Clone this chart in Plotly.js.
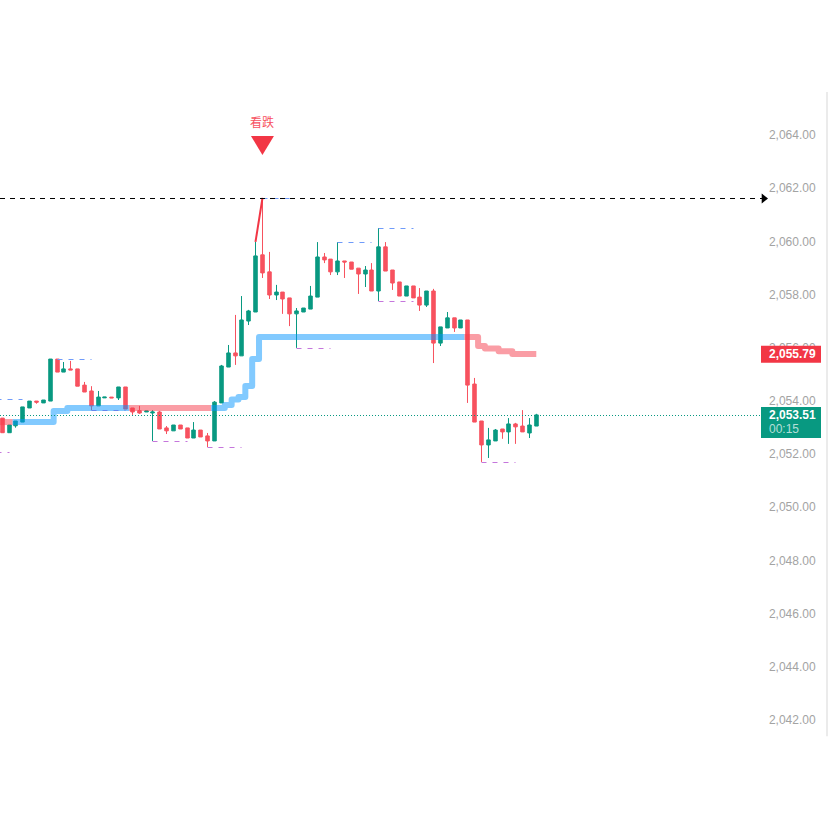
<!DOCTYPE html>
<html>
<head>
<meta charset="utf-8">
<script src="https://cdn.plot.ly/plotly-3.0.1.min.js"></script>
<style>html,body{margin:0;padding:0;background:#fff}#c{width:828px;height:828px}#c .js-line{stroke-linejoin:round}</style>
</head>
<body>
<div id="c"></div>
<script>
const opens = [2053.39,2052.84,2053.10,2053.24,2053.77,2054.03,2053.96,2054.03,2055.61,2055.12,
2055.24,2055.24,2054.63,2054.41,2053.85,2054.15,2054.18,2054.15,2054.56,2053.77,
2053.67,2053.62,2053.58,2053.62,2053.02,2052.91,2053.13,2053.02,2052.64,2052.94,
2052.72,2052.53,2053.96,2055.31,2055.84,2055.73,2057.04,2057.38,2059.53,2058.89,
2058.02,2058.13,2057.91,2057.31,2057.38,2057.49,2057.94,2059.45,2059.37,2058.89,
2059.30,2059.26,2059.03,2058.81,2058.96,2058.17,2059.83,2058.96,2058.51,2057.98,
2058.36,2057.94,2057.64,2058.17,2056.21,2056.78,2057.16,2056.78,2057.08,2054.67,
2053.28,2052.38,2052.53,2052.98,2052.87,2053.17,2053.09,2052.83,2053.09];
const closes = [2052.84,2053.13,2053.28,2053.81,2054.03,2053.99,2054.07,2055.61,2055.12,2055.24,
2055.20,2054.59,2054.37,2053.85,2054.18,2054.18,2054.15,2054.56,2053.73,2053.62,
2053.58,2053.66,2053.62,2052.98,2052.91,2053.13,2052.98,2052.64,2052.94,2052.68,
2052.53,2053.99,2055.35,2055.84,2055.73,2057.08,2057.42,2059.49,2058.85,2058.02,
2058.13,2057.87,2057.31,2057.42,2057.53,2057.98,2059.45,2059.34,2058.89,2059.30,
2059.26,2058.99,2058.81,2058.96,2058.17,2059.83,2058.92,2058.47,2057.98,2058.36,
2057.91,2057.64,2058.17,2056.21,2056.82,2057.16,2056.78,2057.08,2054.63,2053.24,
2052.38,2052.57,2052.94,2052.87,2053.17,2053.06,2052.87,2053.13,2053.51];
const highs = [2053.39,2053.13,2053.28,2053.81,2054.03,2054.03,2054.07,2055.61,2055.61,2055.50,
2055.54,2055.24,2054.75,2054.59,2054.41,2054.18,2054.18,2054.56,2054.56,2053.77,
2053.85,2053.66,2053.69,2053.66,2053.09,2053.13,2053.13,2053.02,2053.24,2052.94,
2052.83,2054.03,2055.39,2056.14,2057.27,2057.98,2057.46,2060.02,2061.67,2059.64,
2058.40,2058.13,2057.91,2057.53,2057.53,2058.36,2060.01,2059.60,2059.37,2060.01,
2059.30,2059.26,2059.03,2059.11,2059.22,2060.54,2060.01,2058.96,2058.51,2058.36,
2058.36,2058.28,2058.17,2058.25,2056.82,2057.38,2057.16,2057.08,2057.08,2054.90,
2053.28,2053.02,2052.98,2052.98,2053.39,2053.21,2053.69,2053.39,2053.55];
const lows = [2052.84,2052.84,2053.03,2053.24,2053.77,2053.93,2053.96,2054.03,2055.12,2055.12,
2055.20,2054.59,2054.37,2053.69,2053.85,2054.15,2054.15,2054.07,2053.73,2053.51,
2053.55,2053.62,2052.53,2052.98,2052.79,2052.91,2052.98,2052.64,2052.64,2052.68,
2052.30,2052.53,2053.96,2055.31,2055.39,2055.73,2056.89,2057.38,2058.66,2057.87,
2057.83,2057.31,2056.85,2056.03,2057.38,2057.49,2057.94,2059.22,2058.77,2058.77,
2058.66,2058.99,2058.06,2058.32,2058.17,2057.79,2058.92,2058.21,2057.98,2057.98,
2057.91,2057.42,2057.57,2055.46,2056.10,2056.78,2056.63,2056.78,2053.96,2053.24,
2051.74,2051.89,2052.53,2052.61,2052.42,2052.42,2052.87,2052.64,2053.09];
const trendValues = [2053.24,2053.24,2053.24,2053.24,2053.24,2053.24,2053.24,2053.24,2053.66,2053.66,
2053.77,2053.77,2053.77,2053.77,2053.77,2053.77,2053.77,2053.77,2053.77,2053.77,
2053.77,2053.77,2053.77,2053.77,2053.77,2053.77,2053.77,2053.77,2053.77,2053.77,
2053.77,2053.77,2053.77,2053.88,2054.09,2054.18,2054.60,2055.61,2056.44,2056.44,
2056.44,2056.44,2056.44,2056.44,2056.44,2056.44,2056.44,2056.44,2056.44,2056.44,
2056.44,2056.44,2056.44,2056.44,2056.44,2056.44,2056.44,2056.44,2056.44,2056.44,
2056.44,2056.44,2056.44,2056.44,2056.44,2056.44,2056.44,2056.44,2056.44,2056.44,
2056.10,2056.01,2056.01,2055.90,2055.90,2055.80,2055.80,2055.80,2055.80];
const trendSegments = [["down",0,1],["up",2,18],["down",19,30],["up",31,67],["down",68,78]];
const pivotHighs = [[-4,3,2054.10],[8,13,2055.61],[38,42,2061.67],[49,54,2060.01],[55,60,2060.54]];
const pivotLows = [[-4,1,2052.10],[13,18,2053.69],[22,27,2052.53],[30,35,2052.30],[43,48,2056.03],[55,60,2057.79],[70,75,2051.74]];
const priceTicks = [2042,2044,2046,2048,2050,2052,2054,2056,2058,2060,2062,2064];
const lastPrice = 2053.51, trendPrice = 2055.79, peakPrice = 2061.67, peakIndex = 38, slantFrom = 37;
const countdown = "00:15", signalLabel = "看跌";

const UP = "#089981", DOWN = "#F7525F", SIGNAL = "#F23645";
const FONT = "'Liberation Sans', Arial, sans-serif";
const PW = 765, PT = 92, PH = 643, BAR = 6.846, X0 = 2.3;
const yRange = [2041.47, 2065.655];
const S = PH / (yRange[1] - yRange[0]);
const px = v => v / PW;
const snapY = p => yRange[1] - (Math.round(PT + (yRange[1] - p) * S) + 0.5 - PT) / S;
const snapI = i => (Math.floor(X0 + BAR * i) + 0.5 - X0) / BAR;
const idx = opens.map((_, i) => snapI(i));
const priceText = v => v.toLocaleString("en-US",{minimumFractionDigits:2, maximumFractionDigits:2});

function pivotTrace(list, color) {
  const x = [], y = [];
  list.forEach(p => { x.push(snapI(p[0]), snapI(p[1]), null); y.push(snapY(p[2]), snapY(p[2]), null); });
  return {type:"scatter", mode:"lines", x, y, hoverinfo:"skip", showlegend:false,
    line:{color, width:1, dash:"5px,6px"}};
}
const traces = [
  pivotTrace(pivotHighs, "#6F9BFA"),
  pivotTrace(pivotLows, "#C576DC"),
  {type:"candlestick", x:idx, open:opens, high:highs, low:lows, close:closes,
    hoverinfo:"skip", showlegend:false, whiskerwidth:0,
    increasing:{line:{color:UP,width:1}, fillcolor:UP},
    decreasing:{line:{color:DOWN,width:1}, fillcolor:DOWN}},
  {type:"scatter", mode:"lines", x:[snapI(slantFrom),snapI(peakIndex)], y:[highs[slantFrom],peakPrice],
    hoverinfo:"skip", showlegend:false, line:{color:SIGNAL,width:2}}
];
trendSegments.forEach(s => {
  const x = [], y = [];
  for (let i = s[1]; i <= s[2]; i++) { x.push(i - 0.5); y.push(trendValues[i]); }
  x.push(Math.min(s[2] + 0.5, opens.length - 1)); y.push(trendValues[s[2]]);
  traces.push({type:"scatter", mode:"lines", x, y, hoverinfo:"skip", showlegend:false,
    line:{shape:"hv", width:6, color: s[0]==="up" ? "rgba(5,150,255,0.5)" : "rgba(245,60,75,0.5)"}});
});

const layout = {
  width:828, height:828, paper_bgcolor:"#fff", plot_bgcolor:"#fff",
  margin:{l:0, r:63, t:92, b:93}, showlegend:false, boxgap:0.167,
  xaxis:{range:[-0.336,111.41], visible:false, rangeslider:{visible:false}, fixedrange:true},
  yaxis:{range:yRange, side:"right", showgrid:false, zeroline:false, showline:false,
    tickmode:"array", tickvals:priceTicks, ticktext:priceTicks.map(priceText),
    ticks:"outside", ticklen:0.5, tickwidth:0, tickcolor:"rgba(0,0,0,0)", ticklabelshift:-1,
    tickfont:{family:FONT,size:12,color:"#A3A3A3"}, fixedrange:true},
  shapes:[
    {type:"line", xref:"paper", yref:"y", x0:0, x1:px(762), y0:snapY(peakPrice), y1:snapY(peakPrice), line:{color:"#000",width:1,dash:"5px,5px"}},
    {type:"line", xref:"paper", yref:"y", x0:0, x1:px(761), y0:snapY(lastPrice), y1:snapY(lastPrice), line:{color:UP,width:1,dash:"1px,2px"}},
    {type:"path", xref:"paper", yref:"y", ysizemode:"pixel", yanchor:snapY(peakPrice), layer:"above",
      path:"M "+px(761.7)+" -5 L "+px(768)+" 0 L "+px(761.7)+" 5 Z", fillcolor:"#000", line:{width:0}},
    {type:"path", xref:"x", yref:"y", xsizemode:"pixel", ysizemode:"pixel", xanchor:peakIndex, yanchor:peakPrice, layer:"above",
      path:"M -11.5 62 L 11.5 62 L 0 43 Z", fillcolor:SIGNAL, line:{width:0}},
    {type:"rect", xref:"paper", yref:"y", layer:"above", x0:px(761), x1:px(821), y0:trendPrice-0.32, y1:trendPrice+0.32, fillcolor:SIGNAL, line:{width:0}},
    {type:"rect", xref:"paper", yref:"y", layer:"above", x0:px(761), x1:px(821), y0:lastPrice-0.865, y1:lastPrice+0.30, fillcolor:UP, line:{width:0}},
    {type:"rect", xref:"paper", yref:"paper", layer:"above", x0:px(826), x1:px(828), y0:-0.002, y1:1, fillcolor:"#EBEBEB", line:{width:0}}
  ],
  annotations:[
    {xref:"x", yref:"y", x:peakIndex, y:peakPrice, yshift:76, text:signalLabel, showarrow:false,
      font:{family:"'Noto Sans CJK SC', sans-serif",size:12,color:DOWN}},
    {xref:"paper", yref:"y", x:px(768), y:trendPrice, xanchor:"left", text:"<b>"+priceText(trendPrice)+"</b>", showarrow:false, borderpad:0,
      font:{family:FONT,size:12,color:"#fff"}},
    {xref:"paper", yref:"y", x:px(768), y:lastPrice, xanchor:"left", text:"<b>"+priceText(lastPrice)+"</b>", showarrow:false, borderpad:0,
      font:{family:FONT,size:12,color:"#fff"}},
    {xref:"paper", yref:"y", x:px(768), y:lastPrice, yshift:-14, xanchor:"left", text:countdown, showarrow:false, borderpad:0,
      font:{family:FONT,size:12,color:"rgba(255,255,255,0.7)"}}
  ]
};
Plotly.newPlot("c", traces, layout, {displayModeBar:false, staticPlot:true});
</script>
</body>
</html>
